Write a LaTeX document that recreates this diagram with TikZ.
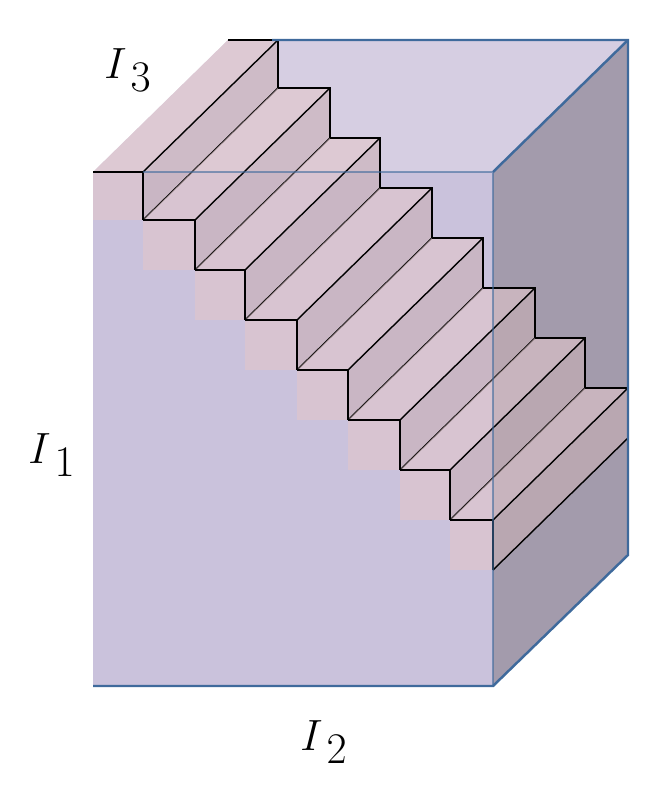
\documentclass[tikz,border=0pt]{standalone}
\definecolor{frontc}{HTML}{CAC2DC}
\definecolor{topc}{HTML}{D6CEE2}
\definecolor{rightc}{HTML}{A39BAC}
\definecolor{edgec}{HTML}{3F6A9C}
\definecolor{pinkc}{HTML}{E2C6CA}
\definecolor{riserc}{HTML}{C9AFB5}
\begin{document}
\begin{tikzpicture}[x=0.02cm,y=-0.02cm,
  edge/.style={draw=edgec,line width=1.4pt},
  prof/.style={draw=black,line width=1.4pt},
  diag/.style={draw=black,line width=0.8pt},
  stair/.style={fill=pinkc,fill opacity=0.6},
  lab/.style={font=\fontsize{46}{50}\selectfont}]
\useasboundingbox (0,0) rectangle (668,810);
\def\dx{135}\def\dy{-132}
\fill[fill=frontc] (93,172) rectangle (493,686);
\fill[fill=topc] (93,172) -- (228,40) -- (628,40) -- (493,172) -- cycle;
\fill[fill=rightc] (493,172) -- (628,40) -- (628,555) -- (493,686) -- cycle;
\foreach \xa/\xb/\ya/\yb in {93/143/172/220,143/195/220/270,195/245/270/320,245/297/320/370,297/348/370/420,348/400/420/470,400/450/470/520,450/493/520/570}{
  \fill[stair] (\xa,\ya) -- (\xb,\ya) -- ++(\dx,\dy) -- (\xa+\dx,\ya+\dy) -- cycle;
  \fill[stair,fill=riserc] (\xb,\ya) -- (\xb,\yb) -- ++(\dx,\dy) -- (\xb+\dx,\ya+\dy) -- cycle;
  \fill[stair] (\xa,\ya) rectangle (\xb,\yb);
  \draw[diag] (\xb,\ya) -- ++(\dx,\dy);
  \draw[diag] (\xb,\yb) -- ++(\dx,\dy);
  \draw[prof] (\xa,\ya) -- (\xb,\ya) -- (\xb,\yb);
  \draw[prof] (\xa+\dx,\ya+\dy) -- (\xb+\dx,\ya+\dy) -- (\xb+\dx,\yb+\dy);
}
\draw[edge] (272,40) -- (628,40) -- (628,555) -- (493,686) -- (93,686);
\draw[edge,draw opacity=0.6] (143,172) -- (493,172) -- (493,686);
\draw[edge] (493,172) -- (628,40);
\node[lab] (i3) at (128,70) {$I_{\,3}$};
\node[lab] (i1) at (52,455) {$I_{\,1}$};
\node[lab] (i2) at (324,742) {$I_{\,2}$};
\end{tikzpicture}
\end{document}
